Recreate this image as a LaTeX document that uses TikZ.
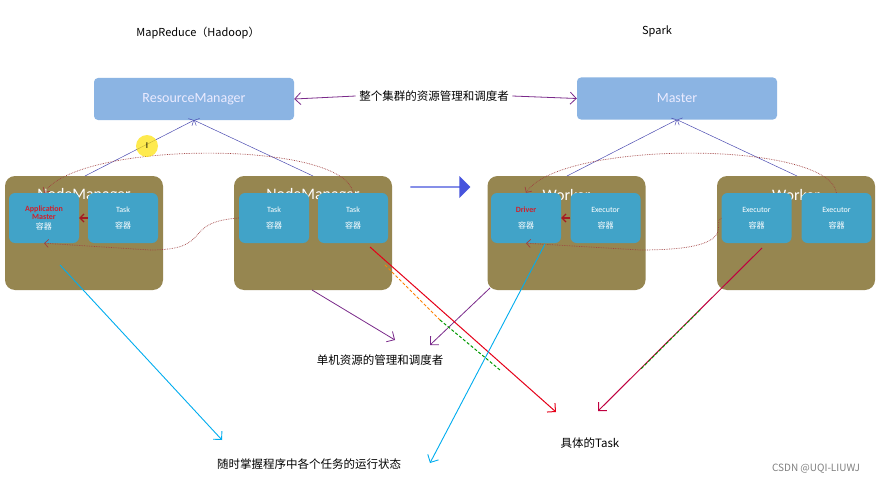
\documentclass[tikz,border=0pt]{standalone}
\usepackage{fontspec}
\setmainfont{Carlito}
\newfontfamily\cjk{Noto Sans CJK SC}
\usetikzlibrary{shapes.arrows,arrows.meta}
\definecolor{topb}{HTML}{8BB4E3}
\definecolor{olive}{HTML}{968650}
\definecolor{inner}{HTML}{41A3C8}
\definecolor{redt}{HTML}{D0202B}
\definecolor{purp}{HTML}{7A2A8A}
\definecolor{curve}{HTML}{A04040}
\tikzset{
 top/.style={fill=topb,rounded corners=4pt,minimum width=200pt,minimum height=42pt,text=white!92!blue,font=\fontsize{14}{16}\selectfont,inner sep=0},
 outer/.style={fill=olive,rounded corners=10pt,minimum width=158pt,minimum height=114pt,inner sep=0},
 inbox/.style={fill=inner,rounded corners=6pt,minimum width=70pt,minimum height=50pt,text=white,align=center,font=\fontsize{8}{13}\selectfont,inner sep=0},
 big/.style={text=white,font=\fontsize{16}{18}\selectfont},
 lab/.style={font=\cjk\fontsize{11.5}{13}\selectfont},
 bl/.style={draw=gray!60!blue,line width=0.5pt,-{Straight Barb[length=4pt]}},
 rc/.style={draw=curve,densely dotted,line width=0.7pt},
 pa/.style={draw=purp,line width=0.8pt,-{Straight Barb[length=6pt]}},
 cy/.style={draw=cyan,line width=0.9pt,-{Straight Barb[length=6pt]}},
}
\begin{document}
\begin{tikzpicture}[x=1pt,y=-1pt]
\useasboundingbox[fill=white] (0,0) rectangle (892,487);
\node[font=\cjk\fontsize{11}{13}\selectfont] (t1) at (198,33) {MapReduce（Hadoop）};
\node[font=\cjk\fontsize{11}{13}\selectfont] (t2) at (657,31) {Spark};
\node[top] (rm) at (194,99) {ResourceManager};
\node[top] (ms) at (677,98.5) {Master};
\node[lab] (cl) at (434,96) {整个集群的资源管理和调度者};
\draw[pa] (cl.west) -- (rm.east);
\draw[pa] (cl.east) -- (ms.west);
% outers
\node[outer] (nm1) at (84,233) {};
\node[outer] (nm2) at (313,233) {};
\node[outer] (w1) at (566.5,233) {};
\node[outer] (w2) at (796,233) {};
\foreach \o/\t in {nm1/NodeManager,nm2/NodeManager,w1/Worker,w2/Worker}
  \node[big] (\o t) at ([yshift=38pt]\o.center) {\t};
\node[inbox] (am) at (44,218) {\textcolor{redt}{\textbf{Application}}\\[-5pt]\textcolor{redt}{\textbf{Master}}\\[-3pt]{\cjk 容器}};
\node[inbox] (t1a) at (123,218) {Task\\[3pt]{\cjk 容器}};
\node[inbox] (t2a) at (274,218) {Task\\[3pt]{\cjk 容器}};
\node[inbox] (t2b) at (353,218) {Task\\[3pt]{\cjk 容器}};
\node[inbox] (dr) at (526,218) {\textcolor{redt}{\textbf{Driver}}\\[3pt]{\cjk 容器}};
\node[inbox] (e1) at (605.5,218) {Executor\\[3pt]{\cjk 容器}};
\node[inbox] (e2) at (756.5,218) {Executor\\[3pt]{\cjk 容器}};
\node[inbox] (e3) at (836.5,218) {Executor\\[3pt]{\cjk 容器}};
% big arrow
\node[single arrow,fill=topb!40!blue!80!gray,minimum height=60pt,minimum width=22pt,single arrow head extend=4pt,inner sep=0] (ba) at (440,187) {};
% blue lines
\draw[bl] (85,176) -- (rm.south);
\draw[bl] (313,176) -- (rm.south);
\draw[bl] (567,176) -- (ms.south);
\draw[bl] (797,176) -- (ms.south);
% red curves
\draw[rc,-{Straight Barb[length=4pt]}] (t2b.north) .. controls (345,140) and (80,140) .. (am.north);
\draw[rc,-{Straight Barb[length=4pt]}] (t2a.west) .. controls (180,222) and (215,250) .. (150,250) -- (am.south);
\draw[rc,-{Straight Barb[length=4pt]}] (e3.north) .. controls (828,140) and (560,140) .. (dr.north);
\draw[rc,-{Straight Barb[length=4pt]}] (e2.west) .. controls (710,222) and (745,250) .. (640,250) -- (dr.south);
\draw[draw=redt!80!black,line width=1.2pt,-{Straight Barb[length=4pt]}] (t1a.west) -- (am.east);
\draw[draw=redt!80!black,line width=1.2pt,-{Straight Barb[length=4pt]}] (e1.west) -- (dr.east);
% cursor
\node[circle,fill=yellow!85!orange,opacity=0.7,minimum size=22pt,inner sep=0] (cur) at (147,146) {};
\node[font=\fontsize{9}{10}\selectfont] at (cur) {I};
% single labels
\node[lab] (sj) at (380,360) {单机资源的管理和调度者};
\coordinate (p1) at (312,290);
\coordinate (p2) at (490,288);
\draw[pa] (p1) -- (395,340);
\draw[pa] (p2) -- (430,345);
\node[lab] (tk) at (590,443) {具体的Task};
\coordinate (r1) at (370,247);
\coordinate (r2) at (762,248);
\draw[line width=1pt,-{Straight Barb[length=6pt]},draw=red!60!purple] (r1) -- (556,412);
\draw[line width=1pt,densely dashed,draw=orange] (385,265) -- (440,320);
\draw[line width=1pt,densely dashed,draw=green!60!black] (440,320) -- (500,370);
\draw[line width=1pt,-{Straight Barb[length=6pt]},draw=purple] (r2) -- (598,411);
\draw[line width=1pt,densely dashed,draw=green!60!black] (700,310) -- (640,370);
\node[lab] (st) at (309,464) {随时掌握程序中各个任务的运行状态};
\coordinate (c1) at (60,265);
\coordinate (c2) at (545,244);
\draw[cy] (c1) -- (222,440);
\draw[cy] (c2) -- (430,463);
\node[font=\cjk\fontsize{10}{12}\selectfont,text=gray] (wm) at (816,469) {CSDN @UQI-LIUWJ};
\end{tikzpicture}
\end{document}
